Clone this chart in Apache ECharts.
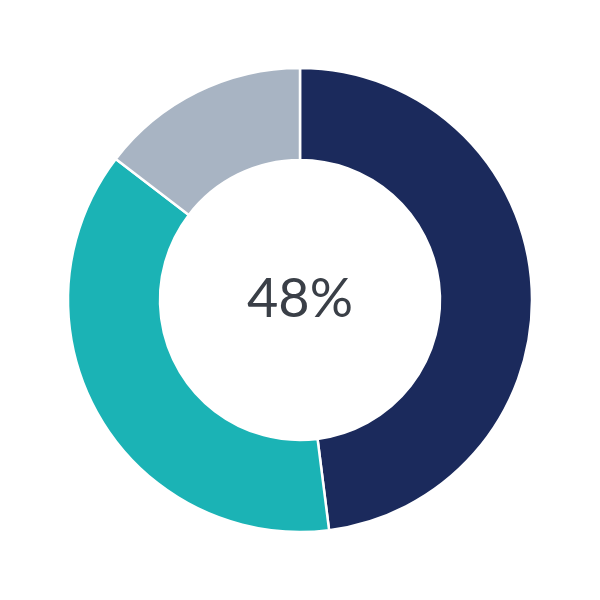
<!DOCTYPE html>
<html><head><meta charset="utf-8">
<script src="https://cdn.jsdelivr.net/npm/echarts@6/dist/echarts.min.js"></script>
<style>html,body{margin:0;padding:0;background:#fff}#c{width:600px;height:600px}</style>
</head><body><div id="c"></div>
<script>
const categories = ['A', 'B', 'C'];
const values = [48, 37.4, 14.6];
const colors = ['#1b2a5c', '#1bb3b5', '#a8b4c3'];
const centerLabel = '48%';

const chart = echarts.init(document.getElementById('c'), null, {renderer: 'canvas'});
chart.setOption({
  animation: false,
  graphic: [{
    type: 'text', left: 'center', top: 'middle',
    style: {text: centerLabel, fontSize: 54, fontFamily: 'Lato', fontWeight: 400, fill: '#3a3f47'}
  }],
  series: [{
    type: 'pie',
    center: [300, 300],
    radius: [140, 232],
    startAngle: 90,
    clockwise: true,
    label: {show: false},
    labelLine: {show: false},
    itemStyle: {borderColor: '#fff', borderWidth: 2.5},
    data: categories.map((c, i) => ({name: c, value: values[i], itemStyle: {color: colors[i]}}))
  }]
});
</script></body></html>
